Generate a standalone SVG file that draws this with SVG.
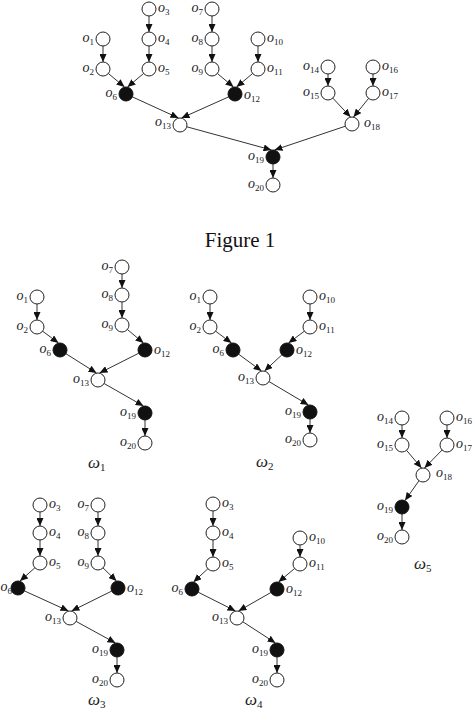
<svg xmlns="http://www.w3.org/2000/svg" width="474" height="714" viewBox="0 0 474 714">
<defs>
<marker id="ah" markerUnits="userSpaceOnUse" markerWidth="8" markerHeight="7" refX="8" refY="3.5" orient="auto">
<path d="M0,0 L8,3.5 L0,7 z" fill="#111"/>
</marker>
<style>
.n{fill:#fff;stroke:#222;stroke-width:1}
.f{fill:#111;stroke:#111;stroke-width:1}
#connectors line{stroke:#333;stroke-width:1;fill:none;marker-end:url(#ah)}
.l{font-family:"Liberation Serif","Times New Roman",serif;font-style:italic;font-size:14px;fill:#222}
.e{text-anchor:end}
.s{font-style:normal;font-size:9px}
.w{font-family:"Liberation Serif","Times New Roman",serif;font-style:italic;font-size:17px;fill:#222}
.ws{font-style:normal;font-size:11px}
.cap{font-family:"Liberation Serif","Times New Roman",serif;font-size:21px;fill:#111;text-anchor:middle}
</style>
</defs>
<rect width="474" height="714" fill="#fff"/>

<g id="connectors">
<!-- Figure 1 -->
<line x1="103" y1="46" x2="103" y2="62"/>
<line x1="149" y1="16" x2="149" y2="32"/>
<line x1="149" y1="46" x2="149" y2="62"/>
<line x1="108.4" y1="73.5" x2="124.5" y2="87"/>
<line x1="143.6" y1="73.5" x2="127.5" y2="87"/>
<line x1="212" y1="16" x2="212" y2="32"/>
<line x1="212" y1="46" x2="212" y2="62"/>
<line x1="258" y1="46" x2="258" y2="62"/>
<line x1="217.4" y1="73.5" x2="233.5" y2="87"/>
<line x1="252.6" y1="73.5" x2="236.5" y2="87"/>
<line x1="132.4" y1="96.9" x2="178.5" y2="118"/>
<line x1="228.6" y1="96.9" x2="181.5" y2="118"/>
<line x1="328" y1="74" x2="328" y2="86"/>
<line x1="373" y1="74" x2="373" y2="86"/>
<line x1="332.8" y1="98.1" x2="350.5" y2="117"/>
<line x1="368.6" y1="98.4" x2="353.5" y2="117"/>
<line x1="186.8" y1="126.8" x2="271.5" y2="150"/>
<line x1="345.4" y1="126.2" x2="274.5" y2="150"/>
<line x1="273" y1="164" x2="273" y2="178"/>
<!-- omega1 -->
<line x1="37" y1="304" x2="37" y2="320"/>
<line x1="122" y1="274" x2="122" y2="288"/>
<line x1="122" y1="302" x2="122" y2="318"/>
<line x1="42.6" y1="331.2" x2="58.5" y2="343"/>
<line x1="127.4" y1="329.5" x2="143.5" y2="343"/>
<line x1="65.9" y1="353.7" x2="96.5" y2="373"/>
<line x1="138.8" y1="353.2" x2="99.5" y2="373"/>
<line x1="104.1" y1="383.5" x2="143.5" y2="406"/>
<line x1="145" y1="420" x2="145" y2="436"/>
<!-- omega2 -->
<line x1="210" y1="304" x2="210" y2="320"/>
<line x1="310" y1="304" x2="310" y2="320"/>
<line x1="215.6" y1="331.2" x2="231.5" y2="343"/>
<line x1="304.4" y1="331.2" x2="288.5" y2="343"/>
<line x1="238.6" y1="354.2" x2="261.5" y2="371"/>
<line x1="281.9" y1="354.8" x2="264.5" y2="371"/>
<line x1="269" y1="381.6" x2="308.5" y2="405"/>
<line x1="310" y1="419" x2="310" y2="433"/>
<!-- omega5 -->
<line x1="402" y1="425" x2="402" y2="438"/>
<line x1="447" y1="425" x2="447" y2="438"/>
<line x1="406.5" y1="450.3" x2="421.5" y2="468"/>
<line x1="442.1" y1="450" x2="424.5" y2="468"/>
<line x1="419" y1="480.7" x2="405" y2="500.5"/>
<line x1="402" y1="514" x2="402" y2="530"/>
<!-- omega3 -->
<line x1="40" y1="512" x2="40" y2="526"/>
<line x1="40" y1="540" x2="40" y2="556"/>
<line x1="98" y1="512" x2="98" y2="526"/>
<line x1="98" y1="540" x2="98" y2="556"/>
<line x1="34.9" y1="567.8" x2="20" y2="581"/>
<line x1="103" y1="567.9" x2="116.5" y2="581"/>
<line x1="24.4" y1="590.9" x2="68.5" y2="611"/>
<line x1="111.7" y1="591.1" x2="71.5" y2="611"/>
<line x1="76.1" y1="621.4" x2="115.5" y2="643"/>
<line x1="117" y1="657" x2="117" y2="673"/>
<!-- omega4 -->
<line x1="213" y1="511" x2="213" y2="526"/>
<line x1="213" y1="540" x2="213" y2="557"/>
<line x1="300" y1="545" x2="300" y2="557"/>
<line x1="207.9" y1="568.7" x2="193.5" y2="582"/>
<line x1="294.6" y1="568.5" x2="278.5" y2="582"/>
<line x1="198.2" y1="592.2" x2="235.5" y2="611"/>
<line x1="270.9" y1="592.5" x2="238.5" y2="611"/>
<line x1="242.9" y1="621.8" x2="275.5" y2="643"/>
<line x1="277" y1="657" x2="277" y2="673"/>
</g>

<!-- Figure 1 nodes -->
<g id="a1"><circle class="n" cx="103" cy="39" r="7"/><text class="l e" x="94" y="42">o<tspan class="s" dy="3">1</tspan></text></g>
<g id="a2"><circle class="n" cx="103" cy="69" r="7"/><text class="l e" x="94" y="72">o<tspan class="s" dy="3">2</tspan></text></g>
<g id="a3"><circle class="n" cx="149" cy="9" r="7"/><text class="l" x="158" y="12">o<tspan class="s" dy="3">3</tspan></text></g>
<g id="a4"><circle class="n" cx="149" cy="39" r="7"/><text class="l" x="158" y="42">o<tspan class="s" dy="3">4</tspan></text></g>
<g id="a5"><circle class="n" cx="149" cy="69" r="7"/><text class="l" x="158" y="72">o<tspan class="s" dy="3">5</tspan></text></g>
<g id="a6"><circle class="f" cx="126" cy="94" r="7"/><text class="l e" x="117" y="97">o<tspan class="s" dy="3">6</tspan></text></g>
<g id="a7"><circle class="n" cx="212" cy="9" r="7"/><text class="l e" x="203" y="12">o<tspan class="s" dy="3">7</tspan></text></g>
<g id="a8"><circle class="n" cx="212" cy="39" r="7"/><text class="l e" x="203" y="42">o<tspan class="s" dy="3">8</tspan></text></g>
<g id="a9"><circle class="n" cx="212" cy="69" r="7"/><text class="l e" x="203" y="72">o<tspan class="s" dy="3">9</tspan></text></g>
<g id="a10"><circle class="n" cx="258" cy="39" r="7"/><text class="l" x="267" y="42">o<tspan class="s" dy="3">10</tspan></text></g>
<g id="a11"><circle class="n" cx="258" cy="69" r="7"/><text class="l" x="267" y="72">o<tspan class="s" dy="3">11</tspan></text></g>
<g id="a12"><circle class="f" cx="235" cy="94" r="7"/><text class="l" x="244" y="99">o<tspan class="s" dy="3">12</tspan></text></g>
<g id="a13"><circle class="n" cx="180" cy="125" r="7"/><text class="l e" x="171" y="126">o<tspan class="s" dy="3">13</tspan></text></g>
<g id="a14"><circle class="n" cx="328" cy="67" r="7"/><text class="l e" x="319" y="70">o<tspan class="s" dy="3">14</tspan></text></g>
<g id="a15"><circle class="n" cx="328" cy="93" r="7"/><text class="l e" x="319" y="96">o<tspan class="s" dy="3">15</tspan></text></g>
<g id="a16"><circle class="n" cx="373" cy="67" r="7"/><text class="l" x="382" y="70">o<tspan class="s" dy="3">16</tspan></text></g>
<g id="a17"><circle class="n" cx="373" cy="93" r="7"/><text class="l" x="382" y="96">o<tspan class="s" dy="3">17</tspan></text></g>
<g id="a18"><circle class="n" cx="352" cy="124" r="7"/><text class="l" x="364" y="127">o<tspan class="s" dy="3">18</tspan></text></g>
<g id="a19"><circle class="f" cx="273" cy="157" r="7"/><text class="l e" x="264" y="160">o<tspan class="s" dy="3">19</tspan></text></g>
<g id="a20"><circle class="n" cx="273" cy="185" r="7"/><text class="l e" x="264" y="188">o<tspan class="s" dy="3">20</tspan></text></g>
<g id="caption"><text class="cap" x="240" y="247">Figure 1</text></g>

<!-- omega1 -->
<g id="b1"><circle class="n" cx="37" cy="297" r="7"/><text class="l e" x="28" y="300">o<tspan class="s" dy="3">1</tspan></text></g>
<g id="b2"><circle class="n" cx="37" cy="327" r="7"/><text class="l e" x="28" y="330">o<tspan class="s" dy="3">2</tspan></text></g>
<g id="b7"><circle class="n" cx="122" cy="267" r="7"/><text class="l e" x="113" y="270">o<tspan class="s" dy="3">7</tspan></text></g>
<g id="b8"><circle class="n" cx="122" cy="295" r="7"/><text class="l e" x="113" y="298">o<tspan class="s" dy="3">8</tspan></text></g>
<g id="b9"><circle class="n" cx="122" cy="325" r="7"/><text class="l e" x="113" y="328">o<tspan class="s" dy="3">9</tspan></text></g>
<g id="b6"><circle class="f" cx="60" cy="350" r="7"/><text class="l e" x="51" y="353">o<tspan class="s" dy="3">6</tspan></text></g>
<g id="b12"><circle class="f" cx="145" cy="350" r="7"/><text class="l" x="154" y="354">o<tspan class="s" dy="3">12</tspan></text></g>
<g id="b13"><circle class="n" cx="98" cy="380" r="7"/><text class="l e" x="89" y="383">o<tspan class="s" dy="3">13</tspan></text></g>
<g id="b19"><circle class="f" cx="145" cy="413" r="7"/><text class="l e" x="136" y="416">o<tspan class="s" dy="3">19</tspan></text></g>
<g id="b20"><circle class="n" cx="145" cy="443" r="7"/><text class="l e" x="136" y="446">o<tspan class="s" dy="3">20</tspan></text></g>
<g id="w1"><text class="w" x="88" y="468">ω<tspan class="ws" dy="3">1</tspan></text></g>

<!-- omega2 -->
<g id="c1"><circle class="n" cx="210" cy="297" r="7"/><text class="l e" x="201" y="300">o<tspan class="s" dy="3">1</tspan></text></g>
<g id="c2"><circle class="n" cx="210" cy="327" r="7"/><text class="l e" x="201" y="330">o<tspan class="s" dy="3">2</tspan></text></g>
<g id="c10"><circle class="n" cx="310" cy="297" r="7"/><text class="l" x="319" y="300">o<tspan class="s" dy="3">10</tspan></text></g>
<g id="c11"><circle class="n" cx="310" cy="327" r="7"/><text class="l" x="319" y="330">o<tspan class="s" dy="3">11</tspan></text></g>
<g id="c6"><circle class="f" cx="233" cy="350" r="7"/><text class="l e" x="224" y="353">o<tspan class="s" dy="3">6</tspan></text></g>
<g id="c12"><circle class="f" cx="287" cy="350" r="7"/><text class="l" x="296" y="354">o<tspan class="s" dy="3">12</tspan></text></g>
<g id="c13"><circle class="n" cx="263" cy="378" r="7"/><text class="l e" x="254" y="381">o<tspan class="s" dy="3">13</tspan></text></g>
<g id="c19"><circle class="f" cx="310" cy="412" r="7"/><text class="l e" x="301" y="415">o<tspan class="s" dy="3">19</tspan></text></g>
<g id="c20"><circle class="n" cx="310" cy="440" r="7"/><text class="l e" x="301" y="443">o<tspan class="s" dy="3">20</tspan></text></g>
<g id="w2"><text class="w" x="256" y="467">ω<tspan class="ws" dy="3">2</tspan></text></g>

<!-- omega5 -->
<g id="d14"><circle class="n" cx="402" cy="418" r="7"/><text class="l e" x="393" y="421">o<tspan class="s" dy="3">14</tspan></text></g>
<g id="d16"><circle class="n" cx="447" cy="418" r="7"/><text class="l" x="456" y="421">o<tspan class="s" dy="3">16</tspan></text></g>
<g id="d15"><circle class="n" cx="402" cy="445" r="7"/><text class="l e" x="393" y="448">o<tspan class="s" dy="3">15</tspan></text></g>
<g id="d17"><circle class="n" cx="447" cy="445" r="7"/><text class="l" x="456" y="448">o<tspan class="s" dy="3">17</tspan></text></g>
<g id="d18"><circle class="n" cx="423" cy="475" r="7"/><text class="l" x="436" y="477">o<tspan class="s" dy="3">18</tspan></text></g>
<g id="d19"><circle class="f" cx="402" cy="507" r="7"/><text class="l e" x="393" y="510">o<tspan class="s" dy="3">19</tspan></text></g>
<g id="d20"><circle class="n" cx="402" cy="537" r="7"/><text class="l e" x="393" y="540">o<tspan class="s" dy="3">20</tspan></text></g>
<g id="w5"><text class="w" x="414" y="569">ω<tspan class="ws" dy="3">5</tspan></text></g>

<!-- omega3 -->
<g id="e3"><circle class="n" cx="40" cy="505" r="7"/><text class="l" x="49" y="508">o<tspan class="s" dy="3">3</tspan></text></g>
<g id="e4"><circle class="n" cx="40" cy="533" r="7"/><text class="l" x="49" y="536">o<tspan class="s" dy="3">4</tspan></text></g>
<g id="e5"><circle class="n" cx="40" cy="563" r="7"/><text class="l" x="49" y="566">o<tspan class="s" dy="3">5</tspan></text></g>
<g id="e7"><circle class="n" cx="98" cy="505" r="7"/><text class="l e" x="89" y="508">o<tspan class="s" dy="3">7</tspan></text></g>
<g id="e8"><circle class="n" cx="98" cy="533" r="7"/><text class="l e" x="89" y="536">o<tspan class="s" dy="3">8</tspan></text></g>
<g id="e9"><circle class="n" cx="98" cy="563" r="7"/><text class="l e" x="89" y="566">o<tspan class="s" dy="3">9</tspan></text></g>
<g id="e6"><circle class="f" cx="18" cy="588" r="7"/><text class="l" x="0.5" y="591">o<tspan class="s" dy="3">6</tspan></text></g>
<g id="e12"><circle class="f" cx="118" cy="588" r="7"/><text class="l" x="127" y="592">o<tspan class="s" dy="3">12</tspan></text></g>
<g id="e13"><circle class="n" cx="70" cy="618" r="7"/><text class="l e" x="61" y="621">o<tspan class="s" dy="3">13</tspan></text></g>
<g id="e19"><circle class="f" cx="117" cy="650" r="7"/><text class="l e" x="108" y="653">o<tspan class="s" dy="3">19</tspan></text></g>
<g id="e20"><circle class="n" cx="117" cy="680" r="7"/><text class="l e" x="108" y="683">o<tspan class="s" dy="3">20</tspan></text></g>
<g id="w3"><text class="w" x="88" y="705">ω<tspan class="ws" dy="3">3</tspan></text></g>

<!-- omega4 -->
<g id="g3"><circle class="n" cx="213" cy="504" r="7"/><text class="l" x="222" y="507">o<tspan class="s" dy="3">3</tspan></text></g>
<g id="g4"><circle class="n" cx="213" cy="533" r="7"/><text class="l" x="222" y="536">o<tspan class="s" dy="3">4</tspan></text></g>
<g id="g5"><circle class="n" cx="213" cy="564" r="7"/><text class="l" x="222" y="567">o<tspan class="s" dy="3">5</tspan></text></g>
<g id="g10"><circle class="n" cx="300" cy="538" r="7"/><text class="l" x="309" y="541">o<tspan class="s" dy="3">10</tspan></text></g>
<g id="g11"><circle class="n" cx="300" cy="564" r="7"/><text class="l" x="309" y="567">o<tspan class="s" dy="3">11</tspan></text></g>
<g id="g6"><circle class="f" cx="192" cy="589" r="7"/><text class="l e" x="183" y="592">o<tspan class="s" dy="3">6</tspan></text></g>
<g id="g12"><circle class="f" cx="277" cy="589" r="7"/><text class="l" x="286" y="593">o<tspan class="s" dy="3">12</tspan></text></g>
<g id="g13"><circle class="n" cx="237" cy="618" r="7"/><text class="l e" x="228" y="621">o<tspan class="s" dy="3">13</tspan></text></g>
<g id="g19"><circle class="f" cx="277" cy="650" r="7"/><text class="l e" x="268" y="653">o<tspan class="s" dy="3">19</tspan></text></g>
<g id="g20"><circle class="n" cx="277" cy="680" r="7"/><text class="l e" x="268" y="683">o<tspan class="s" dy="3">20</tspan></text></g>
<g id="w4"><text class="w" x="245" y="705">ω<tspan class="ws" dy="3">4</tspan></text></g>
</svg>
